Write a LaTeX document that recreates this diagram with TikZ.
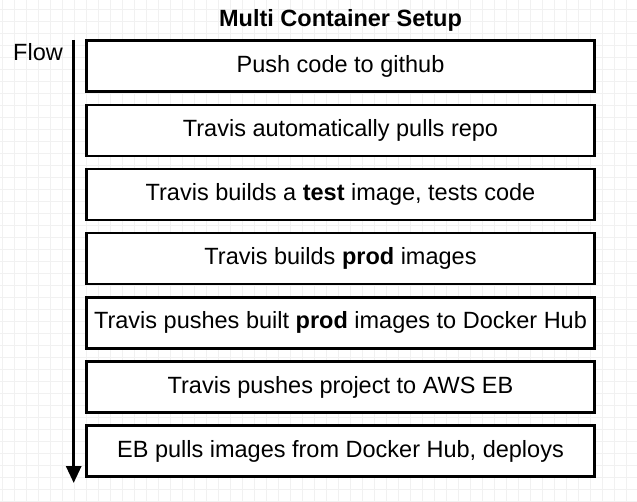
\documentclass[tikz,border=0pt]{standalone}
\usepackage{fontspec}
\setmainfont{Liberation Sans}
\usetikzlibrary{arrows.meta}
\definecolor{gridc}{HTML}{F1F1F1}
\tikzset{
  stepbox/.style={draw=black, line width=2.5pt, fill=white, minimum width=508pt, minimum height=51pt, inner sep=0pt, font=\fontsize{23.5}{28}\selectfont},
  flowarrow/.style={line width=3pt, -{Triangle[width=15pt,length=17pt]}},
  gridline/.style={draw=gridc, line width=0.8pt},
  lbl/.style={font=\fontsize{23.5}{28}\selectfont, inner sep=0pt}
}
\begin{document}
\begin{tikzpicture}[x=1pt,y=1pt]
\useasboundingbox (0,0) rectangle (637,-502);
\fill[white] (0,0) rectangle (637,-502);
\foreach \i in {0,...,52} { \draw[gridline] (2+12*\i,0) -- (2+12*\i,-502); }
\foreach \j in {0,...,41} { \draw[gridline] (0,-9-12*\j) -- (637,-9-12*\j); }
\node[lbl, font=\bfseries\fontsize{23.5}{28}\selectfont] (title) at (340.5,-20) {Multi Container Setup};
\node[lbl] (flow) at (38,-52) {Flow};
\node[stepbox] (s1) at (340.5,-66.1) {Push code to github};
\node[stepbox] (s2) at (340.5,-130.3) {Travis automatically pulls repo};
\node[stepbox] (s3) at (340.5,-194.5) {Travis builds a \textbf{test} image, tests code};
\node[stepbox] (s4) at (340.5,-258.6) {Travis builds \textbf{prod} images};
\node[stepbox] (s5) at (340.5,-322.8) {Travis pushes built \textbf{prod} images to Docker Hub};
\node[stepbox] (s6) at (340.5,-387.0) {Travis pushes project to AWS EB};
\node[stepbox] (s7) at (340.5,-451.2) {EB pulls images from Docker Hub, deploys};
\coordinate (fs) at (73.7,-40);
\coordinate (fe) at (73.7,-483);
\draw[flowarrow] (fs) -- (fe);
\end{tikzpicture}
\end{document}
